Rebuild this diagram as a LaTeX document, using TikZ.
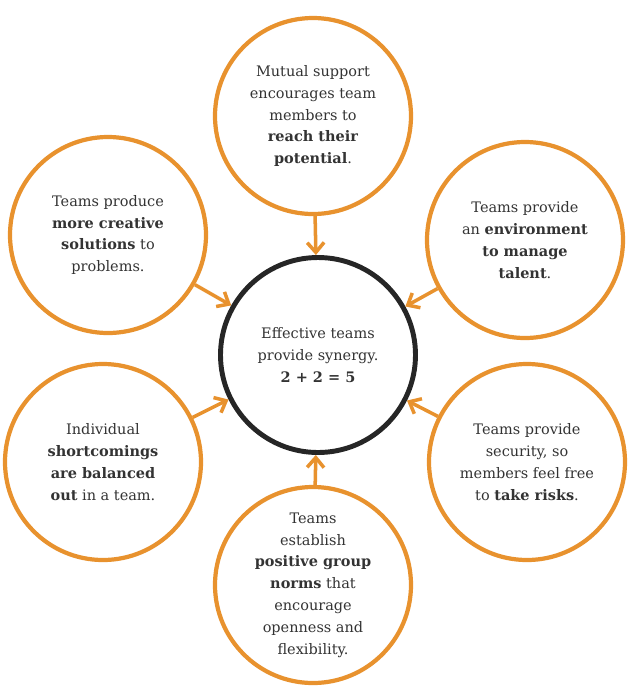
\documentclass[tikz,border=0pt]{standalone}
\usepackage{fontspec}
\setmainfont{DejaVu Serif}
\usepackage{xcolor}
\definecolor{teamorange}{HTML}{E8922E}
\usetikzlibrary{arrows.meta, positioning}
\begin{document}
\begin{tikzpicture}[x=0.025cm, y=-0.025cm,
            idea/.style={circle, draw=teamorange, line width=3pt, minimum size=196*0.025cm, inner sep=0pt,
                         align=center, font=\fontsize{10.3}{15.5}\selectfont, text=black!80},
            hub/.style={circle, draw=black!85, line width=3.5pt, minimum size=195*0.025cm, inner sep=0pt,
                         align=center, font=\fontsize{10.3}{15.5}\selectfont, text=black!80},
            link/.style={-{Straight Barb[length=7pt, width=12pt]}, teamorange, line width=2.5pt}
        ]
        \useasboundingbox (0,0) rectangle (640,693);

        % Nodes (manual layout to match figure)
        \node[hub] (H) at (318, 355) {Effective teams\\provide synergy.\\\textbf{2 + 2 = 5}};
        \node[idea] (T) at (313, 116) {Mutual support\\encourages team\\members to\\\textbf{reach their}\\\textbf{potential}.};
        \node[idea] (UL) at (108, 235) {Teams produce\\\textbf{more creative}\\\textbf{solutions} to\\problems.};
        \node[idea] (UR) at (525, 240) {Teams provide\\an \textbf{environment}\\\textbf{to manage}\\\textbf{talent}.};
        \node[idea] (LL) at (103, 462) {Individual\\\textbf{shortcomings}\\\textbf{are balanced}\\\textbf{out} in a team.};
        \node[idea] (LR) at (527, 462) {Teams provide\\security, so\\members feel free\\to \textbf{take risks}.};
        \node[idea] (B) at (313, 585) {Teams\\establish\\\textbf{positive group}\\\textbf{norms} that\\encourage\\openness and\\flexibility.};

        % Arrows
        \draw[link] (T) -- (H);
        \draw[link] (UL) -- (H);
        \draw[link] (UR) -- (H);
        \draw[link] (LL) -- (H);
        \draw[link] (LR) -- (H);
        \draw[link] (B) -- (H);

    \end{tikzpicture}
\end{document}
